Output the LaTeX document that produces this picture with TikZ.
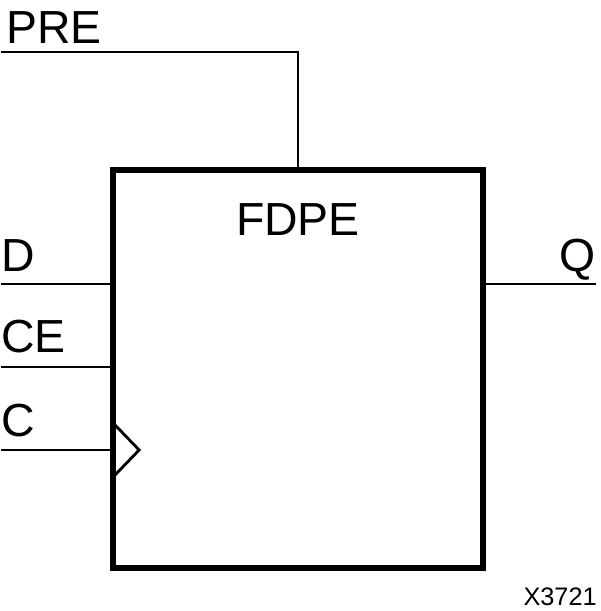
\documentclass[tikz,border=0pt]{standalone}
\usepackage{fontspec}
\setmainfont{Liberation Sans}
\usetikzlibrary{calc}
\tikzset{
  pin/.style={line width=2pt},
  pinlabel/.style={inner sep=0pt, anchor=base west, font=\fontsize{33}{33}\selectfont},
}
\begin{document}
\begin{tikzpicture}[x=0.025cm, y=-0.025cm]
    \useasboundingbox (0,0) rectangle (600,611);
    \node (fdpe) [draw, line width=4pt, minimum width=9.25cm, minimum height=9.95cm, inner sep=0pt] at (298,369) {};
    \node (title) [pinlabel, anchor=base] at (298,235) {FDPE};
    \node (prelabel) [pinlabel] at (6,44) {PRE};
    \node (dlabel) [pinlabel] at (1,271) {D};
    \node (celabel) [pinlabel] at (1,352) {CE};
    \node (clabel) [pinlabel] at (1,436) {C};
    \node (qlabel) [pinlabel, anchor=base east] at (596,271) {Q};
    \node (part) [inner sep=0pt, anchor=base east, font=\fontsize{18}{18}\selectfont] at (597,605) {X3721};
    \coordinate (prein) at (1,52);
    \coordinate (din) at (1,284);
    \coordinate (cein) at (1,367);
    \coordinate (cin) at (1,450);
    \coordinate (qout) at (596,284);
    \draw[pin] (prein) -| (fdpe.north);
    \draw[pin] (din) -- (din -| fdpe.west);
    \draw[pin] (cein) -- (cein -| fdpe.west);
    \draw[pin] (cin) -- (cin -| fdpe.west);
    \draw[pin] (qout) -- (qout -| fdpe.east);
    \draw[pin] ($(cin -| fdpe.west)+(2,-28)$) -- ($(cin -| fdpe.west)+(29,0)$) -- ($(cin -| fdpe.west)+(2,28)$);
  \end{tikzpicture}
\end{document}
